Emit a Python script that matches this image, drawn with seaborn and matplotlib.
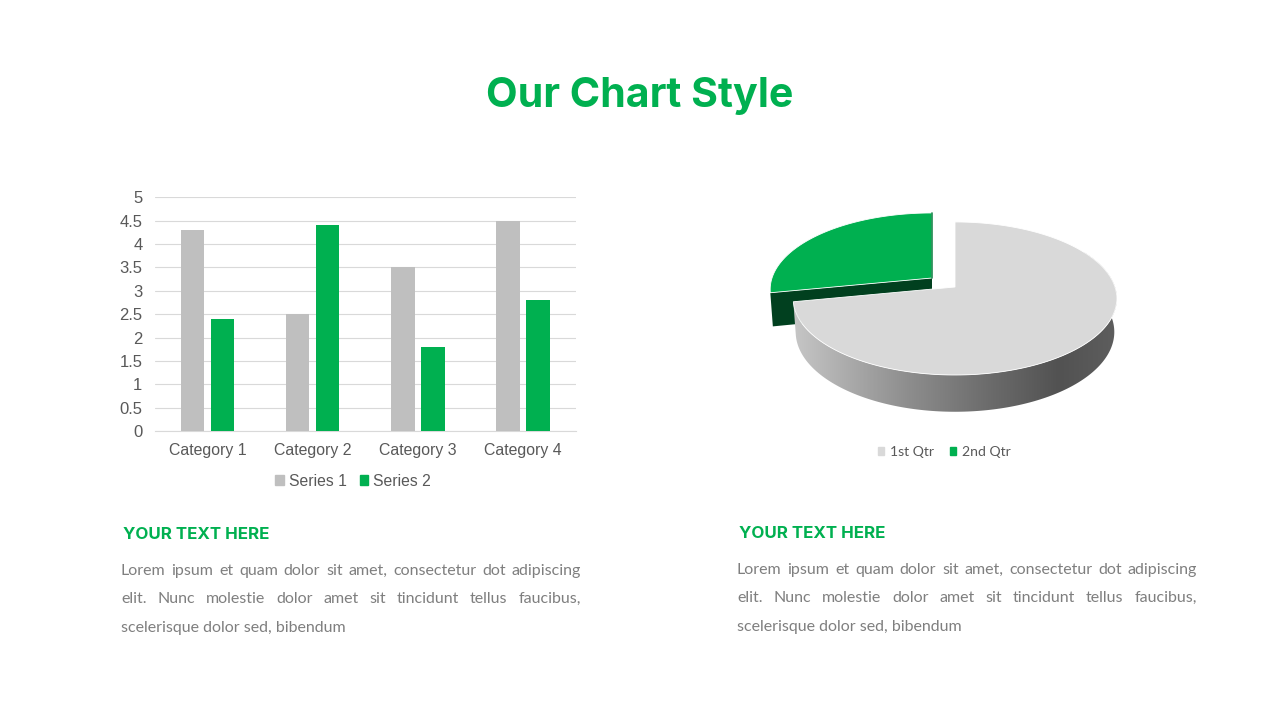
import numpy as np
import pandas as pd
import matplotlib
matplotlib.use('Agg')
import matplotlib.pyplot as plt
from matplotlib.colors import LinearSegmentedColormap
from matplotlib.patches import Polygon, Patch
from matplotlib.transforms import IdentityTransform
import seaborn as sns

categories = ['Category 1', 'Category 2', 'Category 3', 'Category 4']
series_1 = [4.3, 2.5, 3.5, 4.5]
series_2 = [2.4, 4.4, 1.8, 2.8]
y_ticks = [0, 0.5, 1, 1.5, 2, 2.5, 3, 3.5, 4, 4.5, 5]
y_labels = ['0', '0.5', '1', '1.5', '2', '2.5', '3', '3.5', '4', '4.5', '5']

pie_labels = ['1st Qtr', '2nd Qtr']
pie_values = [8.2, 3.2]

title = 'Our Chart Style'
heading = 'YOUR TEXT HERE'
body_lines = ['Lorem ipsum et quam dolor sit amet, consectetur dot adipiscing',
              'elit. Nunc molestie dolor amet sit tincidunt tellus faucibus,',
              'scelerisque dolor sed, bibendum']

GREEN = '#00B050'
BAR_GRAY = '#BFBFBF'
PIE_GRAY = '#D9D9D9'
TEXT_GRAY = '#595959'
BODY_GRAY = '#7F7F7F'

sns.set_theme(style='white')
plt.rcParams['font.family'] = ['Liberation Sans', 'DejaVu Sans']

fig = plt.figure(figsize=(12.8, 7.2), dpi=100, facecolor='white')

# bar chart
ax = fig.add_axes([155 / 1280, (720 - 431) / 720, 420.7 / 1280, 233.7 / 720])
df = pd.DataFrame({
    'category': categories * 2,
    'value': series_1 + series_2,
    'series': ['Series 1'] * 4 + ['Series 2'] * 4,
})
sns.barplot(data=df, x='category', y='value', hue='series', ax=ax,
            palette=[BAR_GRAY, GREEN], width=0.571, gap=0.225, saturation=1, linewidth=0, zorder=3)
ax.set_xlim(-0.5, 3.5)
ax.set_ylim(0, 5)
ax.set_yticks(y_ticks, y_labels)
ax.set_xlabel('')
ax.set_ylabel('')
ax.yaxis.grid(True, color=PIE_GRAY, lw=0.8)
ax.set_axisbelow(True)
ax.tick_params(axis='both', length=0, labelcolor=TEXT_GRAY, labelsize=11.4)
ax.tick_params(axis='y', pad=9, labelsize=12)
ax.tick_params(axis='x', pad=9)
for name in ['top', 'left', 'right']:
    ax.spines[name].set_visible(False)
ax.spines['bottom'].set_color(PIE_GRAY)
ax.spines['bottom'].set_linewidth(0.8)
ax.legend(handles=[Patch(color=BAR_GRAY, label='Series 1'), Patch(color=GREEN, label='Series 2')],
          loc='center', bbox_to_anchor=(353, 720 - 481), bbox_transform=IdentityTransform(),
          ncol=2, frameon=False, fontsize=11.3, labelcolor=TEXT_GRAY,
          handlelength=0.55, handleheight=0.55, handletextpad=0.3, columnspacing=0.85)

# overlay in pixel coordinates for the pie and slide text
over = fig.add_axes([0, 0, 1, 1], zorder=5)
over.patch.set_alpha(0)

# pie projection, the perspective makes the far half look shorter
PIE_X = 955
PERSP = 0.15
EXPLODE = (-23, -9)


def project(t, cy, a, rx, dx=0, dy=0):
    d = 1 + PERSP * np.cos(t)
    return np.column_stack([PIE_X + rx * np.sin(t) / d + dx, cy - a * np.cos(t) / d + dy])


top_face = dict(cy=287, a=74.8, rx=160)
low_face = dict(cy=320, a=78, rx=157.5)
split = 2 * np.pi * pie_values[0] / sum(pie_values)

# exploded green slice, cut face first
g_t = np.linspace(split, 2 * np.pi, 120)
g_top = project(g_t, dx=EXPLODE[0], dy=EXPLODE[1], **top_face)
g_apex = np.array([[PIE_X + EXPLODE[0], top_face['cy'] + EXPLODE[1]]])
g_apex_low = np.array([[PIE_X + EXPLODE[0], low_face['cy'] + EXPLODE[1]]])
g_low_left = project(np.array([split]), dx=EXPLODE[0], dy=EXPLODE[1], **low_face)
over.add_patch(Polygon(np.vstack([g_apex, g_top[:1], g_low_left, g_apex_low]),
                       fc='#01401F', ec='none', zorder=2))
over.add_patch(Polygon(np.vstack([g_apex, g_top]), fc=GREEN, ec='white', lw=0.6, zorder=3))
over.plot([g_top[-1, 0], g_apex[0, 0]], [g_top[-1, 1], g_apex[0, 1]], color='#1F8A50', lw=1.2, zorder=4)

# gray slice, side wall with a gradient then the top face
s_t = np.linspace(np.radians(60), split, 200)
wall = np.vstack([project(s_t, **top_face), project(s_t[::-1], **low_face)])
wall_patch = Polygon(wall, fc='none', ec='none', transform=over.transData)
over.add_patch(wall_patch)
wall_cmap = LinearSegmentedColormap.from_list('wall', [(0, '#C6C6C6'), (0.35, '#8E8E8E'),
                                                       (0.6, '#6C6C6C'), (0.82, '#525252'),
                                                       (1, '#5E5E5E')])
img = over.imshow(np.linspace(0, 1, 256).reshape(1, -1), cmap=wall_cmap, aspect='auto',
                  extent=[793, 1118, 412, 250], zorder=5)
img.set_clip_path(wall_patch)
f_t = np.linspace(0, split, 200)
over.add_patch(Polygon(np.vstack([[[PIE_X, top_face['cy']]], project(f_t, **top_face)]),
                       fc=PIE_GRAY, ec='white', lw=0.6, zorder=6))

over.set_xlim(0, 1280)
over.set_ylim(720, 0)
over.axis('off')

pie_leg = over.legend(handles=[Patch(color=PIE_GRAY, label=pie_labels[0]), Patch(color=GREEN, label=pie_labels[1])],
                      loc='center', bbox_to_anchor=(944.5, 720 - 452), bbox_transform=IdentityTransform(),
                      ncol=2, frameon=False, fontsize=10.1, labelcolor=TEXT_GRAY,
                      handlelength=0.42, handleheight=0.42, handletextpad=0.45, columnspacing=1.1)
for t in pie_leg.get_texts():
    t.set_family('Lato')

# slide text
over.text(640, 107, title, ha='center', va='baseline', color=GREEN, fontsize=29.6,
          family='Inter', weight='bold')


def justified(x0, x1, y, line, fill=True):
    if not fill:
        over.text(x0, y, line, color=BODY_GRAY, fontsize=11.5, family='Lato', va='baseline')
        return
    words = line.split(' ')
    items = [over.text(x0, y, w, color=BODY_GRAY, fontsize=11.5, family='Lato', va='baseline') for w in words]
    renderer = fig.canvas.get_renderer()
    widths = [it.get_window_extent(renderer).width for it in items]
    space = (x1 - x0 - sum(widths)) / (len(words) - 1)
    x = x0
    for it, w in zip(items, widths):
        it.set_x(x)
        x += w + space


for x0, head_x, head_y, base in [(121, 123, 539, 575), (737, 739, 538, 574)]:
    over.text(head_x, head_y, heading, color=GREEN, fontsize=12.2, family='Inter',
              weight='bold', va='baseline')
    justified(x0, x0 + 460, base, body_lines[0])
    justified(x0, x0 + 460, base + 28, body_lines[1])
    justified(x0, x0 + 460, base + 57, body_lines[2], fill=False)

fig.savefig('out.png', dpi=100)
